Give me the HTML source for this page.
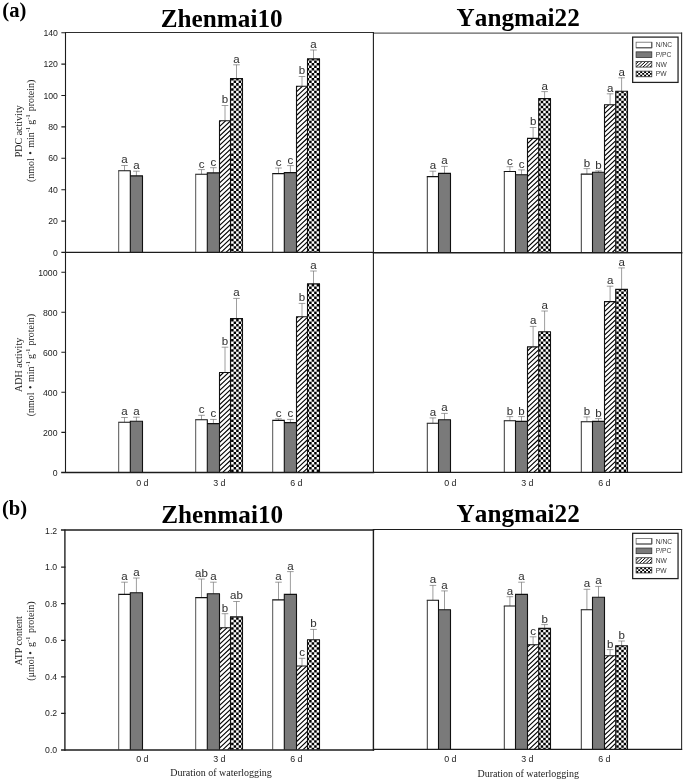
<!DOCTYPE html>
<html lang="en"><head><meta charset="utf-8"><title>Figure</title>
<style>
html,body{margin:0;padding:0;background:#fff;}
body{width:685px;height:779px;overflow:hidden;position:relative;}
svg{position:absolute;left:0;top:0;display:block;}
.bar{stroke:#111;stroke-width:1.1;fill:none;}
.barl{stroke-width:.95;fill:none;}
.eb{stroke:#707070;stroke-width:.68;fill:none;}
.ax{stroke:#1c1c1c;fill:none;}
.lt{font:11.5px "Liberation Sans",sans-serif;fill:#333;stroke:#333;stroke-width:.06;text-anchor:middle;}
.tk{font:9.2px "Liberation Sans",sans-serif;fill:#222;text-anchor:end;}
.xt{font:8.9px "Liberation Sans",sans-serif;fill:#222;text-anchor:middle;}
.yl{font:10px "Liberation Serif",serif;fill:#222;}
.sup{font-size:6.2px;}
.xl{font:10px "Liberation Serif",serif;fill:#222;text-anchor:middle;}
.tt{font:bold 25.2px "Liberation Serif",serif;fill:#000;text-anchor:middle;font-kerning:none;}
.pl{font:bold 20.6px "Liberation Serif",serif;fill:#000;}
.lg{font:6.7px "Liberation Sans",sans-serif;fill:#3a3a3a;}
</style></head><body>
<svg width="685" height="779" viewBox="0 0 685 779">
<defs><clipPath id="c0"><rect x="219.5" y="120.7" width="11" height="131.8"/></clipPath><clipPath id="c1"><rect x="230.5" y="78.6" width="12" height="173.9"/></clipPath><clipPath id="c2"><rect x="296.5" y="86.3" width="11" height="166.2"/></clipPath><clipPath id="c3"><rect x="307.5" y="58.9" width="12" height="193.6"/></clipPath><clipPath id="c4"><rect x="527.5" y="138.4" width="11.2" height="114.1"/></clipPath><clipPath id="c5"><rect x="538.7" y="98.6" width="11.8" height="153.9"/></clipPath><clipPath id="c6"><rect x="604.5" y="104.7" width="11.2" height="147.8"/></clipPath><clipPath id="c7"><rect x="615.7" y="91.2" width="11.8" height="161.3"/></clipPath><clipPath id="c8"><rect x="219.5" y="372.5" width="11" height="99.8"/></clipPath><clipPath id="c9"><rect x="230.5" y="318.6" width="12" height="153.7"/></clipPath><clipPath id="c10"><rect x="296.5" y="316.7" width="11" height="155.6"/></clipPath><clipPath id="c11"><rect x="307.5" y="283.9" width="12" height="188.4"/></clipPath><clipPath id="c12"><rect x="527.5" y="346.9" width="11.2" height="125.4"/></clipPath><clipPath id="c13"><rect x="538.7" y="331.8" width="11.8" height="140.5"/></clipPath><clipPath id="c14"><rect x="604.5" y="301.6" width="11.2" height="170.7"/></clipPath><clipPath id="c15"><rect x="615.7" y="289.4" width="11.8" height="182.9"/></clipPath><clipPath id="c16"><rect x="219.5" y="627.8" width="11" height="121.9"/></clipPath><clipPath id="c17"><rect x="230.5" y="616.9" width="12" height="132.8"/></clipPath><clipPath id="c18"><rect x="296.5" y="666" width="11" height="83.7"/></clipPath><clipPath id="c19"><rect x="307.5" y="639.7" width="12" height="110"/></clipPath><clipPath id="c20"><rect x="527.5" y="644.8" width="11.2" height="104.9"/></clipPath><clipPath id="c21"><rect x="538.7" y="628.4" width="11.8" height="121.3"/></clipPath><clipPath id="c22"><rect x="604.5" y="655.7" width="11.2" height="94"/></clipPath><clipPath id="c23"><rect x="615.7" y="645.8" width="11.8" height="103.9"/></clipPath><clipPath id="c24"><rect x="636.1" y="61.5" width="15.7" height="5.6"/></clipPath><clipPath id="c25"><rect x="636.1" y="71.15" width="15.7" height="5.6"/></clipPath><clipPath id="c26"><rect x="636.1" y="557.7" width="15.7" height="5.6"/></clipPath><clipPath id="c27"><rect x="636.1" y="567.35" width="15.7" height="5.6"/></clipPath></defs>
<rect width="685" height="779" fill="#fff"/>
<path class="eb" d="M124.5 170.8V165.5M121.2 165.5H127.8"/>
<text class="lt" x="124.5" y="163.4">a</text>
<path class="eb" d="M136.4 175.9V171.2M133.1 171.2H139.7"/>
<text class="lt" x="136.4" y="169.1">a</text>
<rect x="118.7" y="170.8" width="11.6" height="81.7" fill="#fff"/>
<rect x="130.3" y="175.9" width="12.2" height="76.6" fill="#7a7a7a"/>
<path class="bar" d="M118.2 170.8H130.8M130.3 252.5V170.8M129.8 175.9H143M142.5 252.5V175.9"/>
<path class="barl" stroke="#4a4a4a" d="M118.7 252.5V170.8"/>
<path class="eb" d="M201.5 174.2V169.6M198.2 169.6H204.8"/>
<text class="lt" x="201.5" y="167.5">c</text>
<path class="eb" d="M213.4 172.9V167.7M210.1 167.7H216.7"/>
<text class="lt" x="213.4" y="165.6">c</text>
<path class="eb" d="M225 120.7V105.5M221.7 105.5H228.3"/>
<text class="lt" x="225" y="103.4">b</text>
<path class="eb" d="M236.5 78.6V64.8M233.2 64.8H239.8"/>
<text class="lt" x="236.5" y="62.7">a</text>
<rect x="195.7" y="174.2" width="11.6" height="78.3" fill="#fff"/>
<rect x="207.3" y="172.9" width="12.2" height="79.6" fill="#7a7a7a"/>
<rect x="219.5" y="120.7" width="11" height="131.8" fill="#fff"/>
<path clip-path="url(#c0)" d="M218 123.19L232 110.03M218 127.91L232 114.75M218 132.62L232 119.46M218 137.34L232 124.18M218 142.05L232 128.89M218 146.77L232 133.61M218 151.48L232 138.32M218 156.2L232 143.04M218 160.91L232 147.75M218 165.62L232 152.46M218 170.34L232 157.18M218 175.06L232 161.9M218 179.77L232 166.61M218 184.48L232 171.32M218 189.2L232 176.04M218 193.91L232 180.75M218 198.63L232 185.47M218 203.34L232 190.19M218 208.06L232 194.9M218 212.78L232 199.62M218 217.49L232 204.33M218 222.21L232 209.05M218 226.92L232 213.76M218 231.64L232 218.48M218 236.35L232 223.19M218 241.07L232 227.91M218 245.78L232 232.62M218 250.49L232 237.33M218 255.21L232 242.05M218 259.92L232 246.76M218 264.64L232 251.48" stroke="#000" stroke-width="1.12" fill="none"/>
<rect x="230.5" y="78.6" width="12" height="173.9" fill="#fff"/>
<g clip-path="url(#c1)" stroke="#000" stroke-width="2.517" stroke-dasharray="2.5095 2.5095" fill="none">
<path d="M229.846 78.1V253" stroke-dashoffset="2.510"/>
<path d="M232.363 78.1V253" stroke-dashoffset="0.001"/>
<path d="M234.880 78.1V253" stroke-dashoffset="2.510"/>
<path d="M237.397 78.1V253" stroke-dashoffset="0.001"/>
<path d="M239.914 78.1V253" stroke-dashoffset="2.510"/>
<path d="M242.431 78.1V253" stroke-dashoffset="0.001"/>
</g>
<path class="bar" d="M195.2 174.2H207.8M207.3 252.5V172.9M206.8 172.9H220M219.5 252.5V120.7M219 120.7H231M230.5 252.5V78.6M230 78.6H243M242.5 252.5V78.6"/>
<path class="barl" stroke="#4a4a4a" d="M195.7 252.5V174.2"/>
<path class="eb" d="M278.5 173.6V168M275.2 168H281.8"/>
<text class="lt" x="278.5" y="165.9">c</text>
<path class="eb" d="M290.4 172.6V165.6M287.1 165.6H293.7"/>
<text class="lt" x="290.4" y="163.5">c</text>
<path class="eb" d="M302 86.3V76.5M298.7 76.5H305.3"/>
<text class="lt" x="302" y="74.4">b</text>
<path class="eb" d="M313.5 58.9V50M310.2 50H316.8"/>
<text class="lt" x="313.5" y="47.9">a</text>
<rect x="272.7" y="173.6" width="11.6" height="78.9" fill="#fff"/>
<rect x="284.3" y="172.6" width="12.2" height="79.9" fill="#7a7a7a"/>
<rect x="296.5" y="86.3" width="11" height="166.2" fill="#fff"/>
<path clip-path="url(#c2)" d="M295 88.53L309 75.37M295 93.24L309 80.08M295 97.96L309 84.8M295 102.68L309 89.52M295 107.39L309 94.23M295 112.1L309 98.94M295 116.82L309 103.66M295 121.53L309 108.38M295 126.25L309 113.09M295 130.96L309 117.81M295 135.68L309 122.52M295 140.39L309 127.24M295 145.11L309 131.95M295 149.82L309 136.67M295 154.54L309 141.38M295 159.25L309 146.1M295 163.97L309 150.81M295 168.69L309 155.53M295 173.4L309 160.24M295 178.11L309 164.95M295 182.83L309 169.67M295 187.54L309 174.38M295 192.26L309 179.1M295 196.97L309 183.81M295 201.69L309 188.53M295 206.4L309 193.25M295 211.12L309 197.96M295 215.83L309 202.68M295 220.55L309 207.39M295 225.26L309 212.11M295 229.98L309 216.82M295 234.69L309 221.54M295 239.41L309 226.25M295 244.12L309 230.96M295 248.84L309 235.68M295 253.56L309 240.4M295 258.27L309 245.11M295 262.98L309 249.82" stroke="#000" stroke-width="1.12" fill="none"/>
<rect x="307.5" y="58.9" width="12" height="193.6" fill="#fff"/>
<g clip-path="url(#c3)" stroke="#000" stroke-width="2.517" stroke-dasharray="2.5095 2.5095" fill="none">
<path d="M307.873 58.4V253" stroke-dashoffset="0.377"/>
<path d="M310.390 58.4V253" stroke-dashoffset="2.886"/>
<path d="M312.907 58.4V253" stroke-dashoffset="0.377"/>
<path d="M315.424 58.4V253" stroke-dashoffset="2.886"/>
<path d="M317.941 58.4V253" stroke-dashoffset="0.377"/>
<path d="M320.458 58.4V253" stroke-dashoffset="2.886"/>
</g>
<path class="bar" d="M272.2 173.6H284.8M284.3 252.5V172.6M283.8 172.6H297M296.5 252.5V86.3M296 86.3H308M307.5 252.5V58.9M307 58.9H320M319.5 252.5V58.9"/>
<path class="barl" stroke="#4a4a4a" d="M272.7 252.5V173.6"/>
<path class="eb" d="M432.9 176.6V171.2M429.6 171.2H436.2"/>
<text class="lt" x="432.9" y="169.1">a</text>
<path class="eb" d="M444.5 173.4V166.4M441.2 166.4H447.8"/>
<text class="lt" x="444.5" y="164.3">a</text>
<rect x="427.3" y="176.6" width="11.2" height="75.9" fill="#fff"/>
<rect x="438.5" y="173.4" width="12" height="79.1" fill="#7a7a7a"/>
<path class="bar" d="M426.8 176.6H439M438.5 252.5V173.4M438 173.4H451M450.5 252.5V173.4"/>
<path class="barl" stroke="#2a2a2a" d="M427.3 252.5V176.6"/>
<path class="eb" d="M509.9 171.5V166.7M506.6 166.7H513.2"/>
<text class="lt" x="509.9" y="164.6">c</text>
<path class="eb" d="M521.5 174.7V169.9M518.2 169.9H524.8"/>
<text class="lt" x="521.5" y="167.8">c</text>
<path class="eb" d="M533.1 138.4V127.5M529.8 127.5H536.4"/>
<text class="lt" x="533.1" y="125.4">b</text>
<path class="eb" d="M544.6 98.6V91.6M541.3 91.6H547.9"/>
<text class="lt" x="544.6" y="89.5">a</text>
<rect x="504.3" y="171.5" width="11.2" height="81" fill="#fff"/>
<rect x="515.5" y="174.7" width="12" height="77.8" fill="#7a7a7a"/>
<rect x="527.5" y="138.4" width="11.2" height="114.1" fill="#fff"/>
<path clip-path="url(#c4)" d="M526 140.15L540.2 126.8M526 144.86L540.2 131.51M526 149.57L540.2 136.23M526 154.29L540.2 140.94M526 159L540.2 145.66M526 163.72L540.2 150.37M526 168.44L540.2 155.09M526 173.15L540.2 159.8M526 177.86L540.2 164.52M526 182.58L540.2 169.23M526 187.3L540.2 173.95M526 192.01L540.2 178.66M526 196.72L540.2 183.38M526 201.44L540.2 188.09M526 206.16L540.2 192.81M526 210.87L540.2 197.52M526 215.58L540.2 202.24M526 220.3L540.2 206.95M526 225.01L540.2 211.67M526 229.73L540.2 216.38M526 234.44L540.2 221.1M526 239.16L540.2 225.81M526 243.88L540.2 230.53M526 248.59L540.2 235.24M526 253.31L540.2 239.96M526 258.02L540.2 244.67M526 262.73L540.2 249.39" stroke="#000" stroke-width="1.12" fill="none"/>
<rect x="538.7" y="98.6" width="11.8" height="153.9" fill="#fff"/>
<g clip-path="url(#c5)" stroke="#000" stroke-width="2.517" stroke-dasharray="2.5095 2.5095" fill="none">
<path d="M539.437 98.1V253" stroke-dashoffset="4.944"/>
<path d="M541.954 98.1V253" stroke-dashoffset="2.434"/>
<path d="M544.471 98.1V253" stroke-dashoffset="4.944"/>
<path d="M546.988 98.1V253" stroke-dashoffset="2.434"/>
<path d="M549.505 98.1V253" stroke-dashoffset="4.944"/>
</g>
<path class="bar" d="M503.8 171.5H516M515.5 252.5V171.5M515 174.7H528M527.5 252.5V138.4M527 138.4H539.2M538.7 252.5V98.6M538.2 98.6H551M550.5 252.5V98.6"/>
<path class="barl" stroke="#2a2a2a" d="M504.3 252.5V171.5"/>
<path class="eb" d="M586.9 174.1V168.6M583.6 168.6H590.2"/>
<text class="lt" x="586.9" y="166.5">b</text>
<path class="eb" d="M598.5 172.2V170.9M595.2 170.9H601.8"/>
<text class="lt" x="598.5" y="168.8">b</text>
<path class="eb" d="M610.1 104.7V93.8M606.8 93.8H613.4"/>
<text class="lt" x="610.1" y="91.7">a</text>
<path class="eb" d="M621.6 91.2V77.8M618.3 77.8H624.9"/>
<text class="lt" x="621.6" y="75.7">a</text>
<rect x="581.3" y="174.1" width="11.2" height="78.4" fill="#fff"/>
<rect x="592.5" y="172.2" width="12" height="80.3" fill="#7a7a7a"/>
<rect x="604.5" y="104.7" width="11.2" height="147.8" fill="#fff"/>
<path clip-path="url(#c6)" d="M603 105.49L617.2 92.14M603 110.2L617.2 96.85M603 114.92L617.2 101.57M603 119.63L617.2 106.28M603 124.35L617.2 111M603 129.06L617.2 115.71M603 133.78L617.2 120.43M603 138.49L617.2 125.14M603 143.21L617.2 129.86M603 147.92L617.2 134.57M603 152.63L617.2 139.29M603 157.35L617.2 144M603 162.07L617.2 148.72M603 166.78L617.2 153.43M603 171.5L617.2 158.15M603 176.21L617.2 162.86M603 180.93L617.2 167.58M603 185.64L617.2 172.29M603 190.36L617.2 177.01M603 195.07L617.2 181.72M603 199.79L617.2 186.44M603 204.5L617.2 191.15M603 209.22L617.2 195.87M603 213.93L617.2 200.58M603 218.64L617.2 205.3M603 223.36L617.2 210.01M603 228.08L617.2 214.73M603 232.79L617.2 219.44M603 237.51L617.2 224.16M603 242.22L617.2 228.87M603 246.94L617.2 233.59M603 251.65L617.2 238.3M603 256.37L617.2 243.02M603 261.08L617.2 247.73" stroke="#000" stroke-width="1.12" fill="none"/>
<rect x="615.7" y="91.2" width="11.8" height="161.3" fill="#fff"/>
<g clip-path="url(#c7)" stroke="#000" stroke-width="2.517" stroke-dasharray="2.5095 2.5095" fill="none">
<path d="M614.947 90.7V253" stroke-dashoffset="2.563"/>
<path d="M617.464 90.7V253" stroke-dashoffset="0.053"/>
<path d="M619.981 90.7V253" stroke-dashoffset="2.563"/>
<path d="M622.498 90.7V253" stroke-dashoffset="0.053"/>
<path d="M625.015 90.7V253" stroke-dashoffset="2.563"/>
<path d="M627.532 90.7V253" stroke-dashoffset="0.053"/>
</g>
<path class="bar" d="M580.8 174.1H593M592.5 252.5V172.2M592 172.2H605M604.5 252.5V104.7M604 104.7H616.2M615.7 252.5V91.2M615.2 91.2H628M627.5 252.5V91.2"/>
<path class="barl" stroke="#2a2a2a" d="M581.3 252.5V174.1"/>
<path class="eb" d="M124.5 422.3V417.5M121.2 417.5H127.8"/>
<text class="lt" x="124.5" y="415.4">a</text>
<path class="eb" d="M136.4 421.3V417.2M133.1 417.2H139.7"/>
<text class="lt" x="136.4" y="415.1">a</text>
<rect x="118.7" y="422.3" width="11.6" height="50" fill="#fff"/>
<rect x="130.3" y="421.3" width="12.2" height="51" fill="#7a7a7a"/>
<path class="bar" d="M118.2 422.3H130.8M130.3 472.3V421.3M129.8 421.3H143M142.5 472.3V421.3"/>
<path class="barl" stroke="#4a4a4a" d="M118.7 472.3V422.3"/>
<path class="eb" d="M201.5 419.7V415.3M198.2 415.3H204.8"/>
<text class="lt" x="201.5" y="413.2">c</text>
<path class="eb" d="M213.4 423.6V419.4M210.1 419.4H216.7"/>
<text class="lt" x="213.4" y="417.3">c</text>
<path class="eb" d="M225 372.5V347.2M221.7 347.2H228.3"/>
<text class="lt" x="225" y="345.1">b</text>
<path class="eb" d="M236.5 318.6V298.4M233.2 298.4H239.8"/>
<text class="lt" x="236.5" y="296.3">a</text>
<rect x="195.7" y="419.7" width="11.6" height="52.6" fill="#fff"/>
<rect x="207.3" y="423.6" width="12.2" height="48.7" fill="#7a7a7a"/>
<rect x="219.5" y="372.5" width="11" height="99.8" fill="#fff"/>
<path clip-path="url(#c8)" d="M218 373.09L232 359.93M218 377.8L232 364.64M218 382.51L232 369.35M218 387.23L232 374.07M218 391.95L232 378.79M218 396.66L232 383.5M218 401.38L232 388.21M218 406.09L232 392.93M218 410.81L232 397.65M218 415.52L232 402.36M218 420.24L232 407.07M218 424.95L232 411.79M218 429.67L232 416.51M218 434.38L232 421.22M218 439.1L232 425.94M218 443.81L232 430.65M218 448.52L232 435.36M218 453.24L232 440.08M218 457.96L232 444.8M218 462.67L232 449.51M218 467.38L232 454.22M218 472.1L232 458.94M218 476.82L232 463.66M218 481.53L232 468.37" stroke="#000" stroke-width="1.12" fill="none"/>
<rect x="230.5" y="318.6" width="12" height="153.7" fill="#fff"/>
<g clip-path="url(#c9)" stroke="#000" stroke-width="2.517" stroke-dasharray="2.5095 2.5095" fill="none">
<path d="M229.846 318.1V472.8" stroke-dashoffset="1.598"/>
<path d="M232.363 318.1V472.8" stroke-dashoffset="4.108"/>
<path d="M234.880 318.1V472.8" stroke-dashoffset="1.598"/>
<path d="M237.397 318.1V472.8" stroke-dashoffset="4.108"/>
<path d="M239.914 318.1V472.8" stroke-dashoffset="1.598"/>
<path d="M242.431 318.1V472.8" stroke-dashoffset="4.108"/>
</g>
<path class="bar" d="M195.2 419.7H207.8M207.3 472.3V419.7M206.8 423.6H220M219.5 472.3V372.5M219 372.5H231M230.5 472.3V318.6M230 318.6H243M242.5 472.3V318.6"/>
<path class="barl" stroke="#4a4a4a" d="M195.7 472.3V419.7"/>
<path class="eb" d="M278.5 420.4V418.8M275.2 418.8H281.8"/>
<text class="lt" x="278.5" y="416.7">c</text>
<path class="eb" d="M290.4 422.6V419.4M287.1 419.4H293.7"/>
<text class="lt" x="290.4" y="417.3">c</text>
<path class="eb" d="M302 316.7V303.4M298.7 303.4H305.3"/>
<text class="lt" x="302" y="301.3">b</text>
<path class="eb" d="M313.5 283.9V271M310.2 271H316.8"/>
<text class="lt" x="313.5" y="268.9">a</text>
<rect x="272.7" y="420.4" width="11.6" height="51.9" fill="#fff"/>
<rect x="284.3" y="422.6" width="12.2" height="49.7" fill="#7a7a7a"/>
<rect x="296.5" y="316.7" width="11" height="155.6" fill="#fff"/>
<path clip-path="url(#c10)" d="M295 319.56L309 306.41M295 324.28L309 311.12M295 328.99L309 315.83M295 333.71L309 320.55M295 338.43L309 325.27M295 343.14L309 329.98M295 347.85L309 334.69M295 352.57L309 339.41M295 357.29L309 344.13M295 362L309 348.84M295 366.71L309 353.56M295 371.43L309 358.27M295 376.14L309 362.98M295 380.86L309 367.7M295 385.57L309 372.42M295 390.29L309 377.13M295 395L309 381.84M295 399.72L309 386.56M295 404.44L309 391.28M295 409.15L309 395.99M295 413.86L309 400.7M295 418.58L309 405.42M295 423.3L309 410.14M295 428.01L309 414.85M295 432.72L309 419.56M295 437.44L309 424.28M295 442.15L309 428.99M295 446.87L309 433.71M295 451.58L309 438.43M295 456.3L309 443.14M295 461.02L309 447.86M295 465.73L309 452.57M295 470.44L309 457.29M295 475.16L309 462M295 479.87L309 466.71M295 484.59L309 471.43" stroke="#000" stroke-width="1.12" fill="none"/>
<rect x="307.5" y="283.9" width="12" height="188.4" fill="#fff"/>
<g clip-path="url(#c11)" stroke="#000" stroke-width="2.517" stroke-dasharray="2.5095 2.5095" fill="none">
<path d="M307.873 283.4V472.8" stroke-dashoffset="4.541"/>
<path d="M310.390 283.4V472.8" stroke-dashoffset="2.031"/>
<path d="M312.907 283.4V472.8" stroke-dashoffset="4.541"/>
<path d="M315.424 283.4V472.8" stroke-dashoffset="2.031"/>
<path d="M317.941 283.4V472.8" stroke-dashoffset="4.541"/>
<path d="M320.458 283.4V472.8" stroke-dashoffset="2.031"/>
</g>
<path class="bar" d="M272.2 420.4H284.8M284.3 472.3V420.4M283.8 422.6H297M296.5 472.3V316.7M296 316.7H308M307.5 472.3V283.9M307 283.9H320M319.5 472.3V283.9"/>
<path class="barl" stroke="#4a4a4a" d="M272.7 472.3V420.4"/>
<path class="eb" d="M432.9 423.3V417.9M429.6 417.9H436.2"/>
<text class="lt" x="432.9" y="415.8">a</text>
<path class="eb" d="M444.5 419.8V413.4M441.2 413.4H447.8"/>
<text class="lt" x="444.5" y="411.3">a</text>
<rect x="427.3" y="423.3" width="11.2" height="49" fill="#fff"/>
<rect x="438.5" y="419.8" width="12" height="52.5" fill="#7a7a7a"/>
<path class="bar" d="M426.8 423.3H439M438.5 472.3V419.8M438 419.8H451M450.5 472.3V419.8"/>
<path class="barl" stroke="#2a2a2a" d="M427.3 472.3V423.3"/>
<path class="eb" d="M509.9 420.8V416.6M506.6 416.6H513.2"/>
<text class="lt" x="509.9" y="414.5">b</text>
<path class="eb" d="M521.5 421.4V416.6M518.2 416.6H524.8"/>
<text class="lt" x="521.5" y="414.5">b</text>
<path class="eb" d="M533.1 346.9V326.4M529.8 326.4H536.4"/>
<text class="lt" x="533.1" y="324.3">a</text>
<path class="eb" d="M544.6 331.8V311M541.3 311H547.9"/>
<text class="lt" x="544.6" y="308.9">a</text>
<rect x="504.3" y="420.8" width="11.2" height="51.5" fill="#fff"/>
<rect x="515.5" y="421.4" width="12" height="50.9" fill="#7a7a7a"/>
<rect x="527.5" y="346.9" width="11.2" height="125.4" fill="#fff"/>
<path clip-path="url(#c12)" d="M526 347.6L540.2 334.26M526 352.32L540.2 338.97M526 357.03L540.2 343.69M526 361.75L540.2 348.4M526 366.46L540.2 353.12M526 371.18L540.2 357.83M526 375.9L540.2 362.55M526 380.61L540.2 367.26M526 385.32L540.2 371.98M526 390.04L540.2 376.69M526 394.75L540.2 381.41M526 399.47L540.2 386.12M526 404.19L540.2 390.84M526 408.9L540.2 395.55M526 413.61L540.2 400.27M526 418.33L540.2 404.98M526 423.04L540.2 409.7M526 427.76L540.2 414.41M526 432.47L540.2 419.13M526 437.19L540.2 423.84M526 441.91L540.2 428.56M526 446.62L540.2 433.27M526 451.33L540.2 437.99M526 456.05L540.2 442.7M526 460.76L540.2 447.42M526 465.48L540.2 452.13M526 470.19L540.2 456.85M526 474.91L540.2 461.56M526 479.63L540.2 466.28M526 484.34L540.2 470.99" stroke="#000" stroke-width="1.12" fill="none"/>
<rect x="538.7" y="331.8" width="11.8" height="140.5" fill="#fff"/>
<g clip-path="url(#c13)" stroke="#000" stroke-width="2.517" stroke-dasharray="2.5095 2.5095" fill="none">
<path d="M539.437 331.3V472.8" stroke-dashoffset="2.251"/>
<path d="M541.954 331.3V472.8" stroke-dashoffset="4.760"/>
<path d="M544.471 331.3V472.8" stroke-dashoffset="2.251"/>
<path d="M546.988 331.3V472.8" stroke-dashoffset="4.760"/>
<path d="M549.505 331.3V472.8" stroke-dashoffset="2.251"/>
</g>
<path class="bar" d="M503.8 420.8H516M515.5 472.3V420.8M515 421.4H528M527.5 472.3V346.9M527 346.9H539.2M538.7 472.3V331.8M538.2 331.8H551M550.5 472.3V331.8"/>
<path class="barl" stroke="#2a2a2a" d="M504.3 472.3V420.8"/>
<path class="eb" d="M586.9 421.7V416.9M583.6 416.9H590.2"/>
<text class="lt" x="586.9" y="414.8">b</text>
<path class="eb" d="M598.5 421.4V418.6M595.2 418.6H601.8"/>
<text class="lt" x="598.5" y="416.5">b</text>
<path class="eb" d="M610.1 301.6V286.2M606.8 286.2H613.4"/>
<text class="lt" x="610.1" y="284.1">a</text>
<path class="eb" d="M621.6 289.4V267.9M618.3 267.9H624.9"/>
<text class="lt" x="621.6" y="265.8">a</text>
<rect x="581.3" y="421.7" width="11.2" height="50.6" fill="#fff"/>
<rect x="592.5" y="421.4" width="12" height="50.9" fill="#7a7a7a"/>
<rect x="604.5" y="301.6" width="11.2" height="170.7" fill="#fff"/>
<path clip-path="url(#c14)" d="M603 303.52L617.2 290.17M603 308.23L617.2 294.88M603 312.95L617.2 299.6M603 317.66L617.2 304.31M603 322.38L617.2 309.03M603 327.09L617.2 313.74M603 331.81L617.2 318.46M603 336.52L617.2 323.17M603 341.24L617.2 327.89M603 345.95L617.2 332.6M603 350.66L617.2 337.32M603 355.38L617.2 342.03M603 360.1L617.2 346.75M603 364.81L617.2 351.46M603 369.53L617.2 356.18M603 374.24L617.2 360.89M603 378.96L617.2 365.61M603 383.67L617.2 370.32M603 388.38L617.2 375.04M603 393.1L617.2 379.75M603 397.82L617.2 384.47M603 402.53L617.2 389.18M603 407.25L617.2 393.9M603 411.96L617.2 398.61M603 416.67L617.2 403.33M603 421.39L617.2 408.04M603 426.11L617.2 412.76M603 430.82L617.2 417.47M603 435.54L617.2 422.19M603 440.25L617.2 426.9M603 444.97L617.2 431.62M603 449.68L617.2 436.33M603 454.39L617.2 441.05M603 459.11L617.2 445.76M603 463.83L617.2 450.48M603 468.54L617.2 455.19M603 473.26L617.2 459.91M603 477.97L617.2 464.62M603 482.68L617.2 469.34" stroke="#000" stroke-width="1.12" fill="none"/>
<rect x="615.7" y="289.4" width="11.8" height="182.9" fill="#fff"/>
<g clip-path="url(#c15)" stroke="#000" stroke-width="2.517" stroke-dasharray="2.5095 2.5095" fill="none">
<path d="M614.947 288.9V472.8" stroke-dashoffset="0.003"/>
<path d="M617.464 288.9V472.8" stroke-dashoffset="2.512"/>
<path d="M619.981 288.9V472.8" stroke-dashoffset="0.003"/>
<path d="M622.498 288.9V472.8" stroke-dashoffset="2.512"/>
<path d="M625.015 288.9V472.8" stroke-dashoffset="0.003"/>
<path d="M627.532 288.9V472.8" stroke-dashoffset="2.512"/>
</g>
<path class="bar" d="M580.8 421.7H593M592.5 472.3V421.4M592 421.4H605M604.5 472.3V301.6M604 301.6H616.2M615.7 472.3V289.4M615.2 289.4H628M627.5 472.3V289.4"/>
<path class="barl" stroke="#2a2a2a" d="M581.3 472.3V421.7"/>
<path class="eb" d="M124.5 594.4V582.2M121.2 582.2H127.8"/>
<text class="lt" x="124.5" y="580.1">a</text>
<path class="eb" d="M136.4 592.8V578M133.1 578H139.7"/>
<text class="lt" x="136.4" y="575.9">a</text>
<rect x="118.7" y="594.4" width="11.6" height="155.3" fill="#fff"/>
<rect x="130.3" y="592.8" width="12.2" height="156.9" fill="#7a7a7a"/>
<path class="bar" d="M118.2 594.4H130.8M130.3 749.7V592.8M129.8 592.8H143M142.5 749.7V592.8"/>
<path class="barl" stroke="#4a4a4a" d="M118.7 749.7V594.4"/>
<path class="eb" d="M201.5 597.6V579M198.2 579H204.8"/>
<text class="lt" x="201.5" y="576.9">ab</text>
<path class="eb" d="M213.4 593.8V582.2M210.1 582.2H216.7"/>
<text class="lt" x="213.4" y="580.1">a</text>
<path class="eb" d="M225 627.8V613.7M221.7 613.7H228.3"/>
<text class="lt" x="225" y="611.6">b</text>
<path class="eb" d="M236.5 616.9V601.5M233.2 601.5H239.8"/>
<text class="lt" x="236.5" y="599.4">ab</text>
<rect x="195.7" y="597.6" width="11.6" height="152.1" fill="#fff"/>
<rect x="207.3" y="593.8" width="12.2" height="155.9" fill="#7a7a7a"/>
<rect x="219.5" y="627.8" width="11" height="121.9" fill="#fff"/>
<path clip-path="url(#c16)" d="M218 631.56L232 618.4M218 636.27L232 623.12M218 640.99L232 627.83M218 645.71L232 632.55M218 650.42L232 637.26M218 655.13L232 641.97M218 659.85L232 646.69M218 664.56L232 651.4M218 669.28L232 656.12M218 674L232 660.84M218 678.71L232 665.55M218 683.43L232 670.27M218 688.14L232 674.98M218 692.86L232 679.69M218 697.57L232 684.41M218 702.28L232 689.12M218 707L232 693.84M218 711.72L232 698.56M218 716.43L232 703.27M218 721.14L232 707.98M218 725.86L232 712.7M218 730.57L232 717.41M218 735.29L232 722.13M218 740L232 726.85M218 744.72L232 731.56M218 749.44L232 736.28M218 754.15L232 740.99M218 758.86L232 745.7" stroke="#000" stroke-width="1.12" fill="none"/>
<rect x="230.5" y="616.9" width="12" height="132.8" fill="#fff"/>
<g clip-path="url(#c17)" stroke="#000" stroke-width="2.517" stroke-dasharray="2.5095 2.5095" fill="none">
<path d="M229.846 616.4V750.2" stroke-dashoffset="1.677"/>
<path d="M232.363 616.4V750.2" stroke-dashoffset="4.187"/>
<path d="M234.880 616.4V750.2" stroke-dashoffset="1.677"/>
<path d="M237.397 616.4V750.2" stroke-dashoffset="4.187"/>
<path d="M239.914 616.4V750.2" stroke-dashoffset="1.677"/>
<path d="M242.431 616.4V750.2" stroke-dashoffset="4.187"/>
</g>
<path class="bar" d="M195.2 597.6H207.8M207.3 749.7V593.8M206.8 593.8H220M219.5 749.7V593.8M219 627.8H231M230.5 749.7V616.9M230 616.9H243M242.5 749.7V616.9"/>
<path class="barl" stroke="#4a4a4a" d="M195.7 749.7V597.6"/>
<path class="eb" d="M278.5 599.9V582.2M275.2 582.2H281.8"/>
<text class="lt" x="278.5" y="580.1">a</text>
<path class="eb" d="M290.4 594.4V571.6M287.1 571.6H293.7"/>
<text class="lt" x="290.4" y="569.5">a</text>
<path class="eb" d="M302 666V658.3M298.7 658.3H305.3"/>
<text class="lt" x="302" y="656.2">c</text>
<path class="eb" d="M313.5 639.7V629.4M310.2 629.4H316.8"/>
<text class="lt" x="313.5" y="627.3">b</text>
<rect x="272.7" y="599.9" width="11.6" height="149.8" fill="#fff"/>
<rect x="284.3" y="594.4" width="12.2" height="155.3" fill="#7a7a7a"/>
<rect x="296.5" y="666" width="11" height="83.7" fill="#fff"/>
<path clip-path="url(#c18)" d="M295 667.62L309 654.46M295 672.34L309 659.18M295 677.06L309 663.89M295 681.77L309 668.61M295 686.48L309 673.32M295 691.2L309 678.04M295 695.91L309 682.75M295 700.63L309 687.47M295 705.35L309 692.18M295 710.06L309 696.9M295 714.78L309 701.62M295 719.49L309 706.33M295 724.2L309 711.04M295 728.92L309 715.76M295 733.63L309 720.47M295 738.35L309 725.19M295 743.07L309 729.9M295 747.78L309 734.62M295 752.49L309 739.33M295 757.21L309 744.05M295 761.92L309 748.76" stroke="#000" stroke-width="1.12" fill="none"/>
<rect x="307.5" y="639.7" width="12" height="110" fill="#fff"/>
<g clip-path="url(#c19)" stroke="#000" stroke-width="2.517" stroke-dasharray="2.5095 2.5095" fill="none">
<path d="M307.873 639.2V750.2" stroke-dashoffset="1.892"/>
<path d="M310.390 639.2V750.2" stroke-dashoffset="4.401"/>
<path d="M312.907 639.2V750.2" stroke-dashoffset="1.892"/>
<path d="M315.424 639.2V750.2" stroke-dashoffset="4.401"/>
<path d="M317.941 639.2V750.2" stroke-dashoffset="1.892"/>
<path d="M320.458 639.2V750.2" stroke-dashoffset="4.401"/>
</g>
<path class="bar" d="M272.2 599.9H284.8M284.3 749.7V594.4M283.8 594.4H297M296.5 749.7V594.4M296 666H308M307.5 749.7V639.7M307 639.7H320M319.5 749.7V639.7"/>
<path class="barl" stroke="#4a4a4a" d="M272.7 749.7V599.9"/>
<path class="eb" d="M432.9 600.2V585.4M429.6 585.4H436.2"/>
<text class="lt" x="432.9" y="583.3">a</text>
<path class="eb" d="M444.5 609.8V590.9M441.2 590.9H447.8"/>
<text class="lt" x="444.5" y="588.8">a</text>
<rect x="427.3" y="600.2" width="11.2" height="149.5" fill="#fff"/>
<rect x="438.5" y="609.8" width="12" height="139.9" fill="#7a7a7a"/>
<path class="bar" d="M426.8 600.2H439M438.5 749.7V600.2M438 609.8H451M450.5 749.7V609.8"/>
<path class="barl" stroke="#2a2a2a" d="M427.3 749.7V600.2"/>
<path class="eb" d="M509.9 606V596.7M506.6 596.7H513.2"/>
<text class="lt" x="509.9" y="594.6">a</text>
<path class="eb" d="M521.5 594.4V582.2M518.2 582.2H524.8"/>
<text class="lt" x="521.5" y="580.1">a</text>
<path class="eb" d="M533.1 644.8V636.8M529.8 636.8H536.4"/>
<text class="lt" x="533.1" y="634.7">c</text>
<path class="eb" d="M544.6 628.4V624.6M541.3 624.6H547.9"/>
<text class="lt" x="544.6" y="622.5">b</text>
<rect x="504.3" y="606" width="11.2" height="143.7" fill="#fff"/>
<rect x="515.5" y="594.4" width="12" height="155.3" fill="#7a7a7a"/>
<rect x="527.5" y="644.8" width="11.2" height="104.9" fill="#fff"/>
<path clip-path="url(#c20)" d="M526 648.51L540.2 635.17M526 653.23L540.2 639.88M526 657.94L540.2 644.6M526 662.66L540.2 649.31M526 667.38L540.2 654.03M526 672.09L540.2 658.74M526 676.8L540.2 663.46M526 681.52L540.2 668.17M526 686.23L540.2 672.89M526 690.95L540.2 677.6M526 695.66L540.2 682.32M526 700.38L540.2 687.03M526 705.09L540.2 691.75M526 709.81L540.2 696.46M526 714.52L540.2 701.18M526 719.24L540.2 705.89M526 723.95L540.2 710.61M526 728.67L540.2 715.32M526 733.38L540.2 720.04M526 738.1L540.2 724.75M526 742.81L540.2 729.47M526 747.53L540.2 734.18M526 752.24L540.2 738.9M526 756.96L540.2 743.61M526 761.67L540.2 748.33" stroke="#000" stroke-width="1.12" fill="none"/>
<rect x="538.7" y="628.4" width="11.8" height="121.3" fill="#fff"/>
<g clip-path="url(#c21)" stroke="#000" stroke-width="2.517" stroke-dasharray="2.5095 2.5095" fill="none">
<path d="M539.437 627.9V750.2" stroke-dashoffset="0.630"/>
<path d="M541.954 627.9V750.2" stroke-dashoffset="3.139"/>
<path d="M544.471 627.9V750.2" stroke-dashoffset="0.630"/>
<path d="M546.988 627.9V750.2" stroke-dashoffset="3.139"/>
<path d="M549.505 627.9V750.2" stroke-dashoffset="0.630"/>
</g>
<path class="bar" d="M503.8 606H516M515.5 749.7V594.4M515 594.4H528M527.5 749.7V594.4M527 644.8H539.2M538.7 749.7V628.4M538.2 628.4H551M550.5 749.7V628.4"/>
<path class="barl" stroke="#2a2a2a" d="M504.3 749.7V606"/>
<path class="eb" d="M586.9 609.8V589.3M583.6 589.3H590.2"/>
<text class="lt" x="586.9" y="587.2">a</text>
<path class="eb" d="M598.5 597.3V586.4M595.2 586.4H601.8"/>
<text class="lt" x="598.5" y="584.3">a</text>
<path class="eb" d="M610.1 655.7V649.6M606.8 649.6H613.4"/>
<text class="lt" x="610.1" y="647.5">b</text>
<path class="eb" d="M621.6 645.8V641M618.3 641H624.9"/>
<text class="lt" x="621.6" y="638.9">b</text>
<rect x="581.3" y="609.8" width="11.2" height="139.9" fill="#fff"/>
<rect x="592.5" y="597.3" width="12" height="152.4" fill="#7a7a7a"/>
<rect x="604.5" y="655.7" width="11.2" height="94" fill="#fff"/>
<path clip-path="url(#c22)" d="M603 656.29L617.2 642.94M603 661.01L617.2 647.66M603 665.72L617.2 652.37M603 670.43L617.2 657.09M603 675.15L617.2 661.8M603 679.87L617.2 666.52M603 684.58L617.2 671.23M603 689.3L617.2 675.95M603 694.01L617.2 680.66M603 698.72L617.2 685.38M603 703.44L617.2 690.09M603 708.15L617.2 694.81M603 712.87L617.2 699.52M603 717.59L617.2 704.24M603 722.3L617.2 708.95M603 727.02L617.2 713.67M603 731.73L617.2 718.38M603 736.44L617.2 723.1M603 741.16L617.2 727.81M603 745.88L617.2 732.53M603 750.59L617.2 737.24M603 755.31L617.2 741.96M603 760.02L617.2 746.67" stroke="#000" stroke-width="1.12" fill="none"/>
<rect x="615.7" y="645.8" width="11.8" height="103.9" fill="#fff"/>
<g clip-path="url(#c23)" stroke="#000" stroke-width="2.517" stroke-dasharray="2.5095 2.5095" fill="none">
<path d="M614.947 645.3V750.2" stroke-dashoffset="2.973"/>
<path d="M617.464 645.3V750.2" stroke-dashoffset="0.463"/>
<path d="M619.981 645.3V750.2" stroke-dashoffset="2.973"/>
<path d="M622.498 645.3V750.2" stroke-dashoffset="0.463"/>
<path d="M625.015 645.3V750.2" stroke-dashoffset="2.973"/>
<path d="M627.532 645.3V750.2" stroke-dashoffset="0.463"/>
</g>
<path class="bar" d="M580.8 609.8H593M592.5 749.7V597.3M592 597.3H605M604.5 749.7V597.3M604 655.7H616.2M615.7 749.7V645.8M615.2 645.8H628M627.5 749.7V645.8"/>
<path class="barl" stroke="#2a2a2a" d="M581.3 749.7V609.8"/>
<g class="ax" stroke-linecap="square">
<path d="M65.5 32.5V472.4" stroke-width="1.1"/>
<path d="M65.5 32.5H373.5" stroke-width="1" stroke="#2e2e2e"/>
<path d="M373.5 33.1H681.6" stroke-width="1" stroke="#3a3a3a"/>
<path d="M681.6 33.1V472.4" stroke-width="1.1" stroke="#2e2e2e"/>
<path d="M373.4 32.8V472.4" stroke-width="1.1"/>
<path d="M61.9 252.4H373.5" stroke-width="1.15"/>
<path d="M373.5 252.8H681.6" stroke-width="1.5"/>
<path d="M61.9 472.4H373.5" stroke-width="1.5"/>
<path d="M373.5 472.4H681.6" stroke-width="1.15"/>
<path d="M64.9 530.1V750.0" stroke-width="1.4" stroke="#222"/>
<path d="M61.7 530.1H373.5" stroke-width="1.5"/>
<path d="M373.5 529.5H681.6" stroke-width="1.1"/>
<path d="M681.6 529.5V749.4" stroke-width="1.1" stroke="#2e2e2e"/>
<path d="M373.4 530.1V750.0" stroke-width="1.4"/>
<path d="M61.7 750.0H373.5" stroke-width="1.3"/>
<path d="M373.5 749.4H681.6" stroke-width="1.1"/>
<path d="M61.9 221.1H65.5M61.9 189.7H65.5M61.9 158.3H65.5M61.9 126.9H65.5M61.9 95.5H65.5M61.9 64.1H65.5M61.9 32.7H65.5M61.9 432.36H65.5M61.9 392.32H65.5M61.9 352.28H65.5M61.9 312.24H65.5M61.9 272.2H65.5" stroke-width="1.1"/>
<path d="M61.7 713.43H64.9M61.7 676.86H64.9M61.7 640.29H64.9M61.7 603.72H64.9M61.7 567.15H64.9" stroke-width="1.2"/>
</g>
<text class="tk" transform="translate(57.9 255.65) scale(.945 1)">0</text>
<text class="tk" transform="translate(57.9 224.25) scale(.945 1)">20</text>
<text class="tk" transform="translate(57.9 192.85) scale(.945 1)">40</text>
<text class="tk" transform="translate(57.9 161.45) scale(.945 1)">60</text>
<text class="tk" transform="translate(57.9 130.05) scale(.945 1)">80</text>
<text class="tk" transform="translate(57.9 98.65) scale(.945 1)">100</text>
<text class="tk" transform="translate(57.9 67.25) scale(.945 1)">120</text>
<text class="tk" transform="translate(57.9 35.85) scale(.945 1)">140</text>
<text class="tk" transform="translate(57.5 476) scale(.945 1)">0</text>
<text class="tk" transform="translate(57.5 435.96) scale(.945 1)">200</text>
<text class="tk" transform="translate(57.5 395.92) scale(.945 1)">400</text>
<text class="tk" transform="translate(57.5 355.88) scale(.945 1)">600</text>
<text class="tk" transform="translate(57.5 315.84) scale(.945 1)">800</text>
<text class="tk" transform="translate(57.5 275.8) scale(.945 1)">1000</text>
<text class="tk" transform="translate(57.2 753.05) scale(.945 1)">0.0</text>
<text class="tk" transform="translate(57.2 716.48) scale(.945 1)">0.2</text>
<text class="tk" transform="translate(57.2 679.91) scale(.945 1)">0.4</text>
<text class="tk" transform="translate(57.2 643.34) scale(.945 1)">0.6</text>
<text class="tk" transform="translate(57.2 606.77) scale(.945 1)">0.8</text>
<text class="tk" transform="translate(57.2 570.2) scale(.945 1)">1.0</text>
<text class="tk" transform="translate(57.2 533.63) scale(.945 1)">1.2</text>
<text class="xt" x="142.3" y="485.6">0 d</text>
<text class="xt" x="219.3" y="485.6">3 d</text>
<text class="xt" x="296.3" y="485.6">6 d</text>
<text class="xt" x="450.3" y="485.6">0 d</text>
<text class="xt" x="527.3" y="485.6">3 d</text>
<text class="xt" x="604.3" y="485.6">6 d</text>
<text class="xt" x="142.3" y="762.0">0 d</text>
<text class="xt" x="219.3" y="762.0">3 d</text>
<text class="xt" x="296.3" y="762.0">6 d</text>
<text class="xt" x="450.3" y="762.0">0 d</text>
<text class="xt" x="527.3" y="762.0">3 d</text>
<text class="xt" x="604.3" y="762.0">6 d</text>
<text class="xl" x="221" y="775.7">Duration of waterlogging</text>
<text class="xl" x="528.3" y="776.7">Duration of waterlogging</text>
<text class="tt" x="221.7" y="26.8">Zhenmai10</text>
<text class="tt" x="518.2" y="25.5">Yangmai22</text>
<text class="tt" x="222.2" y="522.8">Zhenmai10</text>
<text class="tt" x="518.2" y="521.8">Yangmai22</text>
<text class="pl" x="2.3" y="16.9">(a)</text>
<text class="pl" x="1.9" y="515.1">(b)</text>
<text class="yl" text-anchor="middle" transform="translate(21.7 131.3) rotate(-90)">PDC activity</text>
<text class="yl" transform="translate(34.2 182.0) rotate(-90)"><tspan x="0">(nmol</tspan><tspan x="27.2">•</tspan><tspan x="34.2">min</tspan><tspan class="sup" x="49.9" dy="-4">-1</tspan><tspan x="57.3" dy="4">g</tspan><tspan class="sup" x="62.5" dy="-4">-1</tspan><tspan x="70.7" dy="4">protein)</tspan></text>
<text class="yl" text-anchor="middle" transform="translate(21.8 364.9) rotate(-90)">ADH activity</text>
<text class="yl" transform="translate(34.3 416.3) rotate(-90)"><tspan x="0">(nmol</tspan><tspan x="27.2">•</tspan><tspan x="34.2">min</tspan><tspan class="sup" x="49.9" dy="-4">-1</tspan><tspan x="57.3" dy="4">g</tspan><tspan class="sup" x="62.5" dy="-4">-1</tspan><tspan x="70.7" dy="4">protein)</tspan></text>
<text class="yl" text-anchor="middle" transform="translate(21.9 640.8) rotate(-90)">ATP content</text>
<text class="yl" transform="translate(33.8 680.7) rotate(-90)"><tspan x="0">(μmol</tspan><tspan x="26">•</tspan><tspan x="33.7">g</tspan><tspan class="sup" x="39" dy="-4">-1</tspan><tspan x="47.6" dy="4">protein)</tspan></text>
<rect x="632.6500000000001" y="37.1" width="45.4" height="45.3" fill="#fff" stroke="#222" stroke-width="1.25"/>
<rect x="636.1" y="42.2" width="15.7" height="5.6" fill="#fff"/>
<rect x="636.1" y="42.2" width="15.7" height="5.6" fill="none" stroke="#666" stroke-width="0.8"/>
<path d="M651.8 42.2V47.8H636.1" fill="none" stroke="#444" stroke-width="0.9"/>
<text class="lg" x="655.7" y="47.4">N/NC</text>
<rect x="636.1" y="51.85" width="15.7" height="5.6" fill="#7a7a7a"/>
<rect x="636.1" y="51.85" width="15.7" height="5.6" fill="none" stroke="#333" stroke-width="0.8"/>
<text class="lg" x="655.7" y="57.05">P/PC</text>
<rect x="636.1" y="61.5" width="15.7" height="5.6" fill="#fff"/>
<path clip-path="url(#c24)" d="M634.6 62.14L653.3 44.56M634.6 65.34L653.3 47.76M634.6 68.54L653.3 50.96M634.6 71.74L653.3 54.16M634.6 74.94L653.3 57.36M634.6 78.14L653.3 60.56M634.6 81.34L653.3 63.76" stroke="#000" stroke-width="1.0" fill="none"/>
<rect x="636.1" y="61.5" width="15.7" height="5.6" fill="none" stroke="#333" stroke-width="0.8"/>
<text class="lg" x="655.7" y="66.7">NW</text>
<rect x="636.1" y="71.15" width="15.7" height="5.6" fill="#fff"/>
<g clip-path="url(#c25)" stroke="#000" stroke-width="1.97" stroke-dasharray="1.9 1.9" fill="none">
<path d="M635.260 70.65V77.25" stroke-dashoffset="1.500"/>
<path d="M637.230 70.65V77.25" stroke-dashoffset="3.400"/>
<path d="M639.200 70.65V77.25" stroke-dashoffset="1.500"/>
<path d="M641.170 70.65V77.25" stroke-dashoffset="3.400"/>
<path d="M643.140 70.65V77.25" stroke-dashoffset="1.500"/>
<path d="M645.110 70.65V77.25" stroke-dashoffset="3.400"/>
<path d="M647.080 70.65V77.25" stroke-dashoffset="1.500"/>
<path d="M649.050 70.65V77.25" stroke-dashoffset="3.400"/>
<path d="M651.020 70.65V77.25" stroke-dashoffset="1.500"/>
</g>
<rect x="636.1" y="71.15" width="15.7" height="5.6" fill="none" stroke="#333" stroke-width="0.8"/>
<text class="lg" x="655.7" y="76.35">PW</text>
<rect x="632.6500000000001" y="533.3" width="45.4" height="45.3" fill="#fff" stroke="#222" stroke-width="1.25"/>
<rect x="636.1" y="538.4" width="15.7" height="5.6" fill="#fff"/>
<rect x="636.1" y="538.4" width="15.7" height="5.6" fill="none" stroke="#666" stroke-width="0.8"/>
<path d="M651.8 538.4V544H636.1" fill="none" stroke="#444" stroke-width="0.9"/>
<text class="lg" x="655.7" y="543.6">N/NC</text>
<rect x="636.1" y="548.05" width="15.7" height="5.6" fill="#7a7a7a"/>
<rect x="636.1" y="548.05" width="15.7" height="5.6" fill="none" stroke="#333" stroke-width="0.8"/>
<text class="lg" x="655.7" y="553.25">P/PC</text>
<rect x="636.1" y="557.7" width="15.7" height="5.6" fill="#fff"/>
<path clip-path="url(#c26)" d="M634.6 558.34L653.3 540.76M634.6 561.54L653.3 543.96M634.6 564.74L653.3 547.16M634.6 567.94L653.3 550.36M634.6 571.14L653.3 553.56M634.6 574.34L653.3 556.76M634.6 577.54L653.3 559.96" stroke="#000" stroke-width="1.0" fill="none"/>
<rect x="636.1" y="557.7" width="15.7" height="5.6" fill="none" stroke="#333" stroke-width="0.8"/>
<text class="lg" x="655.7" y="562.9">NW</text>
<rect x="636.1" y="567.35" width="15.7" height="5.6" fill="#fff"/>
<g clip-path="url(#c27)" stroke="#000" stroke-width="1.97" stroke-dasharray="1.9 1.9" fill="none">
<path d="M635.260 566.85V573.45" stroke-dashoffset="1.500"/>
<path d="M637.230 566.85V573.45" stroke-dashoffset="3.400"/>
<path d="M639.200 566.85V573.45" stroke-dashoffset="1.500"/>
<path d="M641.170 566.85V573.45" stroke-dashoffset="3.400"/>
<path d="M643.140 566.85V573.45" stroke-dashoffset="1.500"/>
<path d="M645.110 566.85V573.45" stroke-dashoffset="3.400"/>
<path d="M647.080 566.85V573.45" stroke-dashoffset="1.500"/>
<path d="M649.050 566.85V573.45" stroke-dashoffset="3.400"/>
<path d="M651.020 566.85V573.45" stroke-dashoffset="1.500"/>
</g>
<rect x="636.1" y="567.35" width="15.7" height="5.6" fill="none" stroke="#333" stroke-width="0.8"/>
<text class="lg" x="655.7" y="572.55">PW</text>
</svg></body></html>
